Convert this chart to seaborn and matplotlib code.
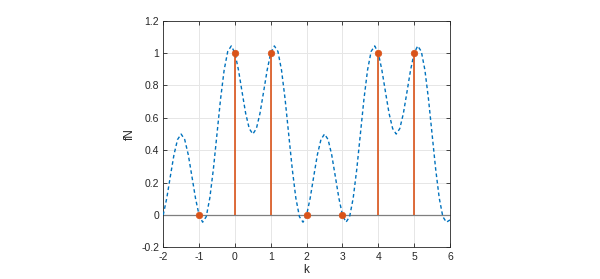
import matplotlib
matplotlib.use("Agg")
import matplotlib.pyplot as plt
import seaborn as sns
import numpy as np
import pandas as pd

# stem samples
k_samples = [-1, 0, 1, 2, 3, 4, 5]
f_samples = [0, 1, 1, 0, 0, 1, 1]

# dashed continuous curve at steps of 0.1 in k
t_curve = [round(-2 + 0.1 * i, 1) for i in range(81)]
f_first = [0.0, 0.105, 0.240, 0.372, 0.466, 0.5, 0.466, 0.372, 0.240, 0.105,
           0.0, -0.044, -0.010, 0.105, 0.284, 0.5, 0.716, 0.895, 1.010, 1.044,
           1.0, 0.895, 0.760, 0.628, 0.534, 0.5, 0.534, 0.628, 0.760, 0.895,
           1.0, 1.044, 1.010, 0.895, 0.716, 0.5, 0.284, 0.105, -0.010, -0.044,
           0.0]
f_second = [0.105, 0.240, 0.372, 0.466, 0.5, 0.466, 0.372, 0.240, 0.105,
            0.0, -0.044, -0.010, 0.105, 0.284, 0.5, 0.716, 0.895, 1.010, 1.044,
            1.0, 0.895, 0.760, 0.628, 0.534, 0.5, 0.534, 0.628, 0.760, 0.895,
            1.0, 1.044, 1.010, 0.895, 0.716, 0.5, 0.284, 0.105, -0.010, -0.044,
            -0.030]
f_curve = f_first + f_second

x_ticks = [-2, -1, 0, 1, 2, 3, 4, 5, 6]
y_ticks = [-0.2, 0, 0.2, 0.4, 0.6, 0.8, 1, 1.2]
y_labels = ["-0.2", "0", "0.2", "0.4", "0.6", "0.8", "1", "1.2"]

sns.set_theme(style="white")
plt.rcParams["font.family"] = ["Liberation Sans", "DejaVu Sans"]

fig = plt.figure(figsize=(6, 2.79), dpi=100)
ax = fig.add_axes([0.272, 0.113, 0.478, 0.813])

blue = "#0072BD"
orange = "#D95319"
axcol = "#262626"

df_curve = pd.DataFrame({"k": t_curve, "f": f_curve})
sns.lineplot(data=df_curve, x="k", y="f", ax=ax, color=blue, lw=1.0,
             linestyle=(0, (2.6, 2.0)), zorder=3)

# baseline
ax.axhline(0, color="#7f7f7f", lw=0.9, zorder=2)
# stems
ax.vlines(k_samples, 0, f_samples, color=orange, lw=1.2, zorder=4)
df_s = pd.DataFrame({"k": k_samples, "f": f_samples})
sns.scatterplot(data=df_s, x="k", y="f", ax=ax, color=orange, s=22,
                edgecolor=orange, linewidth=0.5, zorder=5)

ax.set_xlim(-2, 6)
ax.set_ylim(-0.2, 1.2)
ax.set_xticks(x_ticks)
ax.set_xticklabels([str(v) for v in x_ticks])
ax.set_yticks(y_ticks)
ax.set_yticklabels(y_labels)
ax.grid(True, color="#e6e6e6", lw=0.7)
ax.set_axisbelow(True)
ax.tick_params(direction="in", length=3, width=0.6, colors=axcol,
               labelsize=7.5, pad=3, top=True, right=True,
               bottom=True, left=True, labelcolor=axcol)
for s in ax.spines.values():
    s.set_visible(True)
    s.set_color("#262626")
    s.set_linewidth(0.6)
ax.set_xlabel("k", fontsize=8.5, color=axcol, labelpad=2)
ax.set_ylabel("fN", fontsize=8.5, color=axcol, labelpad=4)

fig.savefig("out.png", dpi=100)
